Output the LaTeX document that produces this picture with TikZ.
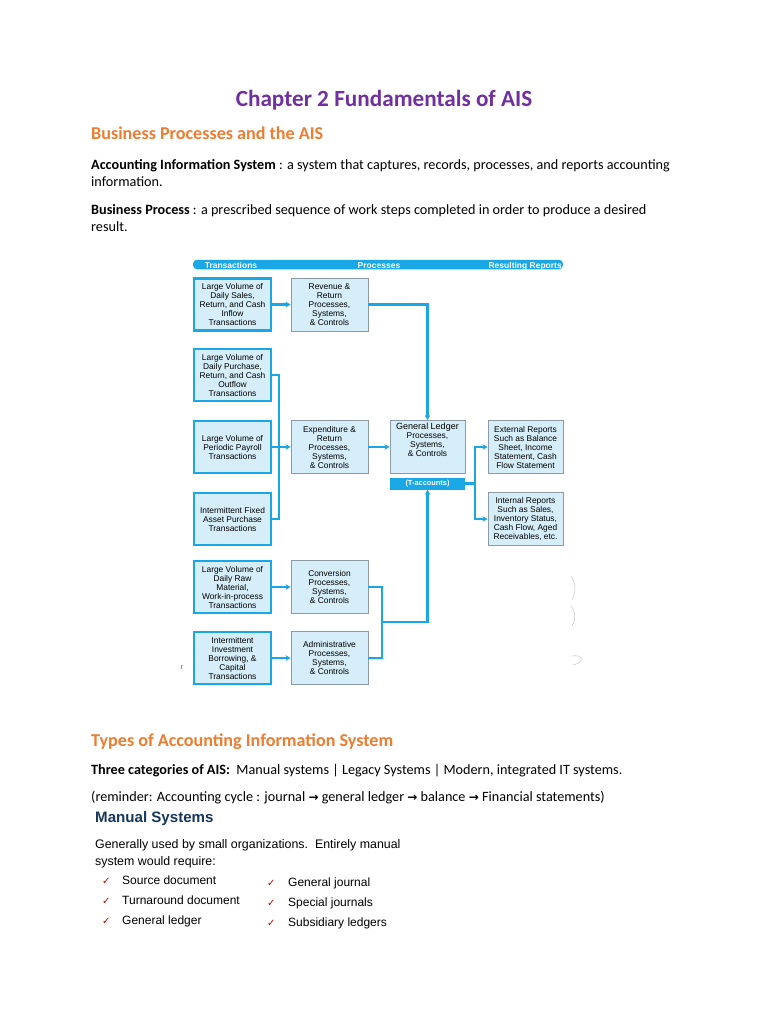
\documentclass[tikz,border=0pt]{standalone}
\usepackage{fontspec}
\setmainfont{Carlito}
\newfontfamily\arial{Liberation Sans}
\newfontfamily\dejavu{DejaVu Sans}
\newcommand{\rarw}{{\dejavu\bfseries\fontsize{12}{14}\selectfont →}}
\usetikzlibrary{arrows.meta}
\definecolor{ttl}{HTML}{7030A0}
\definecolor{hdg}{HTML}{ED7D31}
\definecolor{aisblue}{HTML}{1AA7E6}
\definecolor{boxfill}{HTML}{D6EEF9}
\definecolor{navy}{HTML}{17365D}
\definecolor{chk}{HTML}{C00000}
\definecolor{pgray}{HTML}{8C9AA3}
\begin{document}
\begin{tikzpicture}[x=1pt,y=-1pt,
 txt/.style={anchor=base west, inner sep=0pt, font=\fontsize{14.2}{17}\selectfont},
 hdtxt/.style={anchor=base west, inner sep=0pt, text=hdg, font=\bfseries\fontsize{18.1}{22}\selectfont},
 ar/.style={anchor=base west, inner sep=0pt, font=\arial\fontsize{12.4}{15}\selectfont},
 itm/.style={anchor=base west, inner sep=0pt, font=\arial\fontsize{12}{14}\selectfont},
 chkm/.style={anchor=base west, inner sep=0pt, text=chk, font=\dejavu\fontsize{10}{11}\selectfont},
 tbox/.style={draw=aisblue, line width=2.2pt, fill=boxfill, minimum width=77pt, minimum height=52pt, inner sep=1pt, align=center, font=\arial\fontsize{8.4}{9}\selectfont},
 pbox/.style={draw=pgray, line width=0.8pt, fill=boxfill, minimum width=77pt, minimum height=53pt, inner sep=1pt, align=center, font=\arial\fontsize{8.4}{9}\selectfont},
 hlab/.style={anchor=base, inner sep=0pt, text=white, font=\arial\bfseries\fontsize{8.5}{9}\selectfont},
 conn/.style={draw=aisblue, line width=2.2pt},
 arr/.style={conn, -{Stealth[length=5pt,width=5.5pt]}},
 stray/.style={draw=gray!45, line width=0.5pt}
]
\useasboundingbox[fill=white] (0,0) rectangle (768,1024);

% ---------- texts at top ----------
\node[anchor=base, inner sep=0pt, text=ttl, font=\bfseries\fontsize{23.2}{27}\selectfont] (title) at (384,107) {Chapter 2 Fundamentals of AIS};
\node[hdtxt] (h1) at (91,140) {Business Processes and the AIS};
\node[txt] (l1) at (91,169.5) {\textbf{Accounting Information System} : a system that captures, records, processes, and reports accounting};
\node[txt] (l2) at (91,187) {information.};
\node[txt] (l3) at (91,214.5) {\textbf{Business Process} : a prescribed sequence of work steps completed in order to produce a desired};
\node[txt] (l4) at (91,232) {result.};

% ---------- header bar ----------
\node[fill=aisblue, rounded corners=4pt, minimum width=370pt, minimum height=9.5pt, inner sep=0pt] (hdr) at (378,264.5) {};
\node[hlab] (hT) at (231,268) {Transactions};
\node[hlab] (hP) at (379,268) {Processes};
\node[hlab, anchor=base east] (hR) at (562,268) {Resulting Reports};

% ---------- boxes ----------
\node[tbox] (T1) at (232.5,304.5) {Large Volume of\\Daily Sales,\\Return, and Cash\\Inflow\\Transactions};
\node[pbox] (P1) at (329.5,304.5) {Revenue \&\\Return\\Processes,\\Systems,\\\& Controls};
\node[tbox] (T2) at (232.5,375) {Large Volume of\\Daily Purchase,\\Return, and Cash\\Outflow\\Transactions};
\node[tbox] (T3) at (232.5,447) {Large Volume of\\Periodic Payroll\\Transactions};
\node[tbox] (T4) at (232.5,519) {Intermittent Fixed\\Asset Purchase\\Transactions};
\node[pbox] (P2) at (329.5,447) {Expenditure \&\\Return\\Processes,\\Systems,\\\& Controls};
\node[pbox, minimum width=75pt] (GL) at (427.5,447) {{\fontsize{9}{10}\selectfont General Ledger}\\Processes,\\Systems,\\\& Controls\\[6pt]};
\node[fill=aisblue, minimum width=75pt, minimum height=12pt, inner sep=0pt, text=white, font=\arial\bfseries\fontsize{7.4}{8}\selectfont] (Tacc) at (427.5,483.5) {(T-accounts)};
\node[pbox, minimum width=75pt] (R1) at (525.5,447) {External Reports\\Such as Balance\\Sheet, Income\\Statement, Cash\\Flow Statement};
\node[pbox, minimum width=75pt] (R2) at (525.5,519) {Internal Reports\\Such as Sales,\\Inventory Status,\\Cash Flow, Aged\\Receivables, etc.};
\node[tbox] (T5) at (232.5,587) {Large Volume of\\Daily Raw\\Material,\\Work-in-process\\Transactions};
\node[pbox] (P3) at (329.5,587) {Conversion\\Processes,\\Systems,\\\& Controls};
\node[tbox] (T6) at (232.5,658) {Intermittent\\Investment\\Borrowing, \&\\Capital\\Transactions};
\node[pbox] (P4) at (329.5,658) {Administrative\\Processes,\\Systems,\\\& Controls};

% ---------- connectors ----------
\coordinate (bT) at (279,447);
\coordinate (bR) at (475,483.5);
\coordinate (bP) at (382,622);
\draw[arr] (T1.east) -- (P1.west);
\draw[arr] (P1.east) -| (GL.north);
\draw[conn] (T2.east) -| (bT) |- (T4.east);
\draw[arr] (T3.east) -- (P2.west);
\draw[arr] (P2.east) -- (GL.west);
\draw[conn] (Tacc.east) -- (bR);
\draw[arr] (bR) |- (R1.west);
\draw[arr] (bR) |- (R2.west);
\draw[conn] (P3.east) -| (bP) |- (P4.east);
\draw[arr] (bP) -| (Tacc.south);
\draw[arr] (T5.east) -- (P3.west);
\draw[arr] (T6.east) -- (P4.west);

% ---------- stray scan marks ----------
\node[anchor=base, inner sep=0pt, text=gray!60!black, font=\arial\fontsize{7}{8}\selectfont] (sr) at (182,669) {r};
\draw[stray] (571,576) .. controls (576,584) and (576,592) .. (572,600);
\draw[stray] (571,606) .. controls (576,612) and (576,620) .. (572,626);
\draw[stray] (572,656) .. controls (582,654) and (586,662) .. (573,665);

% ---------- lower texts ----------
\node[hdtxt] (h2) at (91,746) {Types of Accounting Information System};
\node[txt] (l5) at (91,774) {\textbf{Three categories of AIS:}\ \ Manual systems | Legacy Systems | Modern, integrated IT systems.};
\node[txt] (l6) at (91,801.5) {(reminder: Accounting cycle : journal \rarw{} general ledger \rarw{} balance \rarw{} Financial statements)};
\node[ar, text=navy, font=\arial\bfseries\fontsize{15.1}{17}\selectfont] (ms) at (95,822) {Manual Systems};
\node[ar] (g1) at (95,848) {Generally used by small organizations.\ \ Entirely manual};
\node[ar] (g2) at (95,865.5) {system would require:};

\node[chkm] (c1) at (102,884) {✓};
\node[chkm] (c2) at (102,904) {✓};
\node[chkm] (c3) at (102,924) {✓};
\node[chkm] (c4) at (267,886) {✓};
\node[chkm] (c5) at (267,906) {✓};
\node[chkm] (c6) at (267,926) {✓};
\node[itm] (i1) at (122,884) {Source document};
\node[itm] (i2) at (122,904) {Turnaround document};
\node[itm] (i3) at (122,924) {General ledger};
\node[itm] (i4) at (288,886) {General journal};
\node[itm] (i5) at (288,906) {Special journals};
\node[itm] (i6) at (288,926) {Subsidiary ledgers};
\end{tikzpicture}
\end{document}
